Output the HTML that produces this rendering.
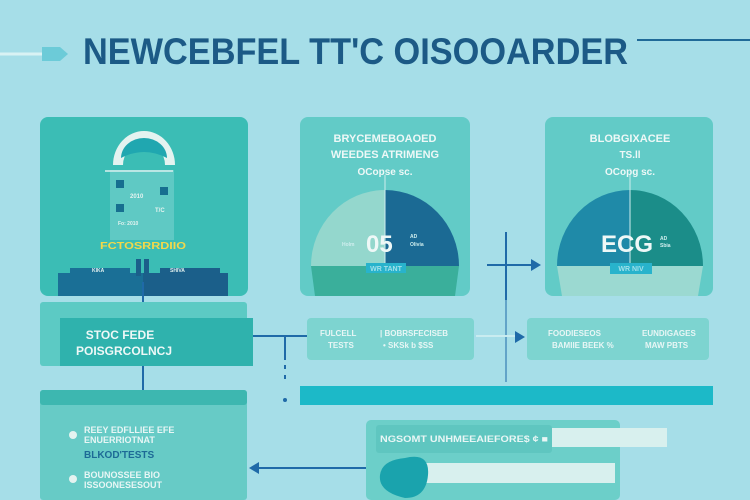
<!DOCTYPE html>
<html><head><meta charset="utf-8"><style>
html,body{margin:0;padding:0;background:#a6dee8;}
svg{display:block;font-family:"Liberation Sans",sans-serif;font-weight:bold;}
</style></head><body>
<svg width="750" height="500" viewBox="0 0 750 500" xmlns="http://www.w3.org/2000/svg">
<rect width="750" height="500" fill="#a6dee8"/>
<!-- title -->
<line x1="0" y1="54" x2="45" y2="54" stroke="#d9f2f4" stroke-width="3"/>
<path d="M42 47 L60 47 L68 54 L60 61 L42 61 Z" fill="#6ccbd8"/>
<line x1="637" y1="40" x2="750" y2="40" stroke="#1f6a98" stroke-width="2"/>
<text x="83" y="64" font-size="37" fill="#1c5a86" textLength="545" lengthAdjust="spacingAndGlyphs">NEWCEBFEL TT'C OISOOARDER</text>

<!-- left card -->
<rect x="40" y="117" width="208" height="179" rx="8" fill="#3bbdb5"/>
<path d="M113 165 A31 34 0 0 1 175 165 L165 165 A21 22 0 0 0 123 165 Z" fill="#e4f3f0"/>
<path d="M121 158 A23 20 0 0 1 167 158 Q144 146 121 158 Z" fill="#20a7b0"/>
<rect x="110" y="170" width="64" height="70" fill="#5fc9c4"/>
<line x1="105" y1="171" x2="173" y2="171" stroke="#d9f0ee" stroke-width="1.5"/>
<rect x="116" y="180" width="8" height="8" fill="#176f90"/>
<rect x="160" y="187" width="8" height="8" fill="#176f90"/>
<rect x="116" y="204" width="8" height="8" fill="#176f90"/>
<text x="130" y="198" font-size="6" fill="#e4f3f0">2010</text>
<text x="155" y="212" font-size="6" fill="#e4f3f0">T/C</text>
<text x="118" y="225" font-size="5" fill="#e4f3f0">Fo: 2010</text>
<text x="100" y="249" font-size="10" fill="#f2d84a" textLength="86" lengthAdjust="spacingAndGlyphs">FCTOSRRDIIO</text>
<rect x="58" y="273" width="170" height="23" fill="#1a6f96"/>
<rect x="143" y="273" width="85" height="23" fill="#1b5f8a"/>
<rect x="136" y="259" width="5" height="17" fill="#1b5f8a"/>
<rect x="144" y="259" width="5" height="17" fill="#1b5f8a"/>
<rect x="70" y="268" width="60" height="5" fill="#1a6f96"/>
<rect x="160" y="268" width="60" height="5" fill="#1b5f8a"/>
<text x="92" y="272" font-size="5" fill="#e4f3f0">KIKA</text>
<text x="170" y="272" font-size="5" fill="#e4f3f0">SHIVA</text>

<!-- middle card -->
<rect x="300" y="117" width="170" height="179" rx="8" fill="#62cbc7"/>
<text x="385" y="142" font-size="11" fill="#eef8f7" text-anchor="middle">BRYCEMEBOAOED</text>
<text x="385" y="158" font-size="11" fill="#eef8f7" text-anchor="middle">WEEDES ATRIMENG</text>
<text x="385" y="175" font-size="10" fill="#eef8f7" text-anchor="middle">OCopse sc.</text>
<clipPath id="c1"><rect x="300" y="117" width="170" height="179"/></clipPath>
<g clip-path="url(#c1)">
<path d="M311 266 A74 76 0 0 1 385 190 L385 266 Z" fill="#94d7cd"/>
<path d="M385 190 A74 76 0 0 1 459 266 L385 266 Z" fill="#1b6a94"/>
<path d="M311 266 L459 266 L455 296 L315 296 Z" fill="#3aaf9b"/>
</g>
<line x1="385" y1="175" x2="385" y2="266" stroke="#cfeeee" stroke-width="1"/>
<text x="366" y="252" font-size="24" fill="#eef8f7">05</text>
<text x="410" y="238" font-size="5" fill="#cfeeee">AD</text>
<text x="410" y="246" font-size="5" fill="#cfeeee">Olivia</text>
<text x="342" y="246" font-size="5" fill="#cfeeee">Holm</text>
<rect x="366" y="263" width="40" height="10" fill="#28b3cc"/>
<text x="386" y="271" font-size="7" fill="#9fe0ea" text-anchor="middle">WR TANT</text>

<!-- right card -->
<rect x="545" y="117" width="168" height="179" rx="8" fill="#62cbc7"/>
<text x="630" y="142" font-size="11" fill="#eef8f7" text-anchor="middle">BLOBGIXACEE</text>
<text x="630" y="158" font-size="10" fill="#eef8f7" text-anchor="middle">TS.ll</text>
<text x="630" y="175" font-size="10" fill="#eef8f7" text-anchor="middle">OCopg sc.</text>
<clipPath id="c2"><rect x="545" y="117" width="168" height="179"/></clipPath>
<g clip-path="url(#c2)">
<path d="M557 266 A73 76 0 0 1 630 190 L630 266 Z" fill="#1f8aa8"/>
<path d="M630 190 A73 76 0 0 1 703 266 L630 266 Z" fill="#1b8d89"/>
<path d="M557 266 L703 266 L698 296 L562 296 Z" fill="#9bd9d1"/>
</g>
<line x1="630" y1="175" x2="630" y2="266" stroke="#cfeeee" stroke-width="1"/>
<text x="601" y="252" font-size="24" fill="#eef8f7">ECG</text>
<text x="660" y="240" font-size="5" fill="#cfeeee">AD</text>
<text x="660" y="247" font-size="5" fill="#cfeeee">Sbia</text>
<rect x="610" y="263" width="42" height="11" fill="#28b3cc"/>
<text x="631" y="271" font-size="7" fill="#9fe0ea" text-anchor="middle">WR NIV</text>

<!-- connectors -->
<line x1="143" y1="282" x2="143" y2="302" stroke="#1f6aa8" stroke-width="2"/>
<line x1="143" y1="366" x2="143" y2="392" stroke="#1f6aa8" stroke-width="2"/>
<line x1="506" y1="232" x2="506" y2="300" stroke="#1f6aa8" stroke-width="2"/>
<line x1="487" y1="265" x2="533" y2="265" stroke="#1f6aa8" stroke-width="2"/>
<path d="M531 259 L541 265 L531 271 Z" fill="#1f6aa8"/>
<line x1="506" y1="300" x2="506" y2="382" stroke="#1f6aa8" stroke-width="1"/>
<line x1="253" y1="336" x2="307" y2="336" stroke="#1f6aa8" stroke-width="2"/>
<line x1="285" y1="336" x2="285" y2="360" stroke="#1f6aa8" stroke-width="2"/>
<line x1="285" y1="365" x2="285" y2="383" stroke="#1f6aa8" stroke-width="2" stroke-dasharray="4 6"/>
<circle cx="285" cy="400" r="2" fill="#1f6aa8"/>
<line x1="476" y1="336" x2="515" y2="336" stroke="#c9ecf0" stroke-width="2"/>
<path d="M515 331 L525 337 L515 343 Z" fill="#1f6aa8"/>

<!-- middle row -->
<rect x="40" y="302" width="207" height="64" rx="3" fill="#5ccac4"/>
<rect x="60" y="318" width="193" height="48" fill="#2fb2ad"/>
<text x="120" y="339" font-size="12" fill="#eef8f7" text-anchor="middle">STOC FEDE</text>
<text x="124" y="355" font-size="12" fill="#eef8f7" text-anchor="middle">POISGRCOLNCJ</text>
<rect x="307" y="318" width="167" height="42" rx="4" fill="#7dd4d0"/>
<text x="320" y="336" font-size="8" fill="#e8f6f5">FULCELL</text>
<text x="328" y="348" font-size="8" fill="#e8f6f5">TESTS</text>
<text x="380" y="336" font-size="8" fill="#e8f6f5">| BOBRSFECISEB</text>
<text x="383" y="348" font-size="8" fill="#e8f6f5">• SKSk  b   $SS</text>
<rect x="527" y="318" width="182" height="42" rx="4" fill="#7dd4d0"/>
<text x="548" y="336" font-size="8" fill="#e8f6f5">FOODIESEOS</text>
<text x="552" y="348" font-size="8" fill="#e8f6f5">BAMIIE BEEK %</text>
<text x="642" y="336" font-size="8" fill="#e8f6f5">EUNDIGAGES</text>
<text x="645" y="348" font-size="8" fill="#e8f6f5">MAW PBTS</text>
<rect x="300" y="386" width="413" height="19" fill="#1cb9c8"/>

<!-- bottom left -->
<rect x="40" y="390" width="207" height="110" rx="3" fill="#67cbc6"/>
<rect x="40" y="390" width="207" height="15" rx="3" fill="#3db7b0"/>
<circle cx="73" cy="435" r="4" fill="#e4f3f0"/>
<text x="84" y="433" font-size="9" fill="#e8f6f5">REEY EDFLLIEE EFE</text>
<text x="84" y="443" font-size="9" fill="#e8f6f5">ENUERRIOTNAT</text>
<text x="84" y="458" font-size="10" fill="#1d6a96">BLKOD'TESTS</text>
<circle cx="73" cy="479" r="4" fill="#e4f3f0"/>
<text x="84" y="478" font-size="9" fill="#e8f6f5">BOUNOSSEE BIO</text>
<text x="84" y="488" font-size="9" fill="#e8f6f5">ISSOONESESOUT</text>
<line x1="258" y1="468" x2="366" y2="468" stroke="#1f6aa8" stroke-width="2"/>
<path d="M259 462 L249 468 L259 474 Z" fill="#1f6aa8"/>

<!-- bottom right -->
<rect x="366" y="420" width="254" height="80" rx="5" fill="#6ccfc9"/>
<rect x="376" y="425" width="176" height="28" rx="3" fill="#5fc6c0"/>
<text x="380" y="442" font-size="9" fill="#e8f6f5" textLength="168" lengthAdjust="spacingAndGlyphs">NGSOMT UNHMEEAIEFORE$ ¢ ■</text>
<rect x="552" y="428" width="115" height="19" fill="#d8f0ee"/>
<rect x="425" y="463" width="190" height="20" fill="#d8f0ee"/>
<path d="M405 458 Q430 452 428 475 Q426 498 405 498 Q378 492 380 475 Q382 460 405 458 Z" fill="#1aa3ad"/>
</svg>
</body></html>
